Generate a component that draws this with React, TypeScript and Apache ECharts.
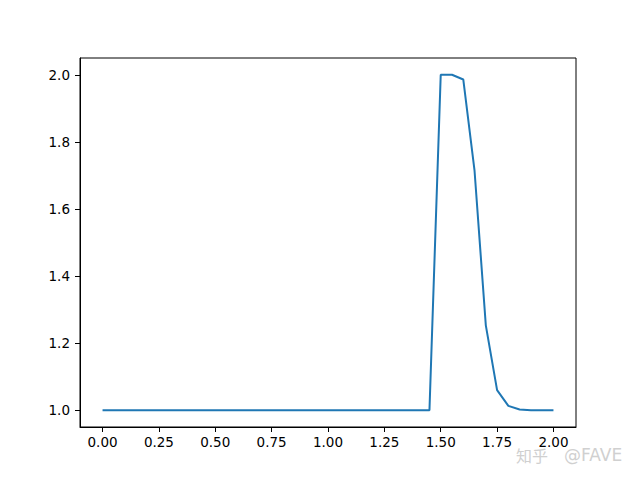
import React, { useEffect, useRef } from "react";
import * as echarts from "echarts";

const xValues: number[] = [
  0, 0.05, 0.1, 0.15, 0.2, 0.25, 0.3, 0.35, 0.4, 0.45,
  0.5, 0.55, 0.6, 0.65, 0.7, 0.75, 0.8, 0.85, 0.9, 0.95,
  1.0, 1.05, 1.1, 1.15, 1.2, 1.25, 1.3, 1.35, 1.4, 1.45,
  1.5, 1.55, 1.6, 1.65, 1.7, 1.75, 1.8, 1.85, 1.9, 1.95, 2.0,
];
const yValues: number[] = [
  1, 1, 1, 1, 1, 1, 1, 1, 1, 1,
  1, 1, 1, 1, 1, 1, 1, 1, 1, 1,
  1, 1, 1, 1, 1, 1, 1, 1, 1, 1,
  2.0, 2.0, 1.986, 1.714, 1.253, 1.06, 1.013, 1.002, 1.0003, 1.0, 1.0,
];
const xTicks: number[] = [0, 0.25, 0.5, 0.75, 1.0, 1.25, 1.5, 1.75, 2.0];
const yTicks: number[] = [1.0, 1.2, 1.4, 1.6, 1.8, 2.0];
const watermarkSite = "知乎";
const watermarkUser = "@FAVE";

export default function App() {
  const ref = useRef<HTMLDivElement>(null);
  useEffect(() => {
    if (!ref.current) return;
    const chart = echarts.init(ref.current, null, { renderer: "svg" });
    const font = "DejaVu Sans";
    chart.setOption({
      animation: false,
      backgroundColor: "#ffffff",
      grid: {
        left: 80,
        top: 58,
        width: 496,
        height: 369,
        show: true,
        borderColor: "#000000",
        borderWidth: 1,
        backgroundColor: "transparent",
      },
      xAxis: {
        type: "value",
        min: -0.1,
        max: 2.1,
        splitLine: { show: false },
        axisLine: { show: true, onZero: false, lineStyle: { color: "#000", width: 1 } },
        axisTick: {
          show: true,
          length: 5,
          inside: false,
          customValues: xTicks,
          lineStyle: { color: "#000", width: 1 },
        },
        axisLabel: {
          customValues: xTicks,
          formatter: (v: number) => v.toFixed(2),
          color: "#000",
          fontFamily: font,
          fontSize: 13.5,
          margin: 8,
        },
      },
      yAxis: {
        type: "value",
        min: 0.95,
        max: 2.05,
        splitLine: { show: false },
        axisLine: { show: true, onZero: false, lineStyle: { color: "#000", width: 1 } },
        axisTick: {
          show: true,
          length: 5,
          inside: false,
          customValues: yTicks,
          lineStyle: { color: "#000", width: 1 },
        },
        axisLabel: {
          customValues: yTicks,
          formatter: (v: number) => v.toFixed(1),
          color: "#000",
          fontFamily: font,
          fontSize: 13.5,
          margin: 10,
        },
      },
      graphic: [
        {
          type: "text",
          left: 516,
          top: 446,
          style: {
            text: "{a|" + watermarkSite + "}{b|" + watermarkUser + "}",
            rich: {
              a: {
                fill: "#d0d0d0",
                fontSize: 16,
                fontFamily: '"Noto Sans CJK SC", sans-serif',
                padding: [0, 16, 0, 0],
              },
              b: {
                fill: "#d0d0d0",
                fontSize: 17,
                fontFamily: '"DejaVu Sans", sans-serif',
              },
            },
          },
          z: 100,
        },
      ],
      series: [
        {
          type: "line",
          data: xValues.map((x, i) => [x, yValues[i]]),
          showSymbol: false,
          symbol: "none",
          lineStyle: { color: "#1f77b4", width: 2 },
          clip: true,
        },
      ],
    });
    return () => chart.dispose();
  }, []);
  return (
    <div
      ref={ref}
      style={{ position: "fixed", left: 0, top: 0, width: 640, height: 480 }}
    />
  );
}
